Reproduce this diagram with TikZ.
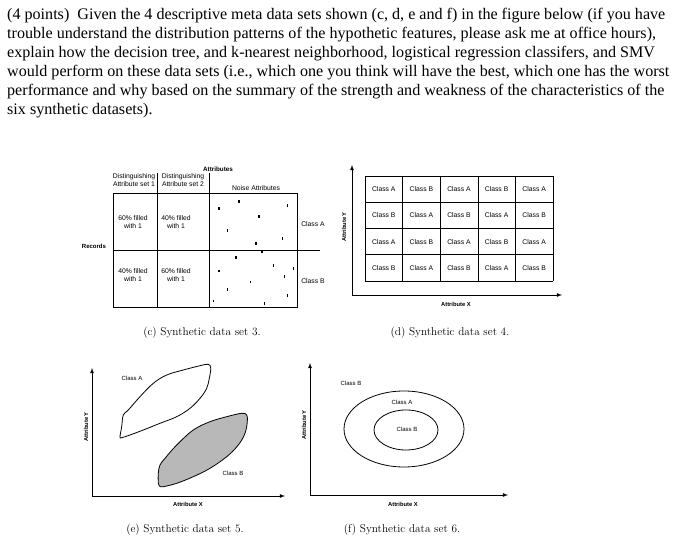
\documentclass[tikz,border=0pt]{standalone}
\usepackage{fontspec}
\newfontfamily\parafont{Liberation Serif}
\setsansfont{Liberation Sans}
\begin{document}
\begin{tikzpicture}[x=1pt,y=-1pt,
  para/.style={anchor=base west,inner sep=0pt,font=\parafont\fontsize{16.1}{18}\selectfont},
  lbl/.style={inner sep=0pt,font=\sffamily\fontsize{6.8}{7.6}\selectfont,align=center},
  small/.style={inner sep=0pt,font=\sffamily\fontsize{6}{7}\selectfont,align=center},
  axlbl/.style={inner sep=0pt,font=\sffamily\bfseries\fontsize{5.8}{7}\selectfont},
  capt/.style={inner sep=0pt,font=\fontsize{11.3}{13}\selectfont},
  ln/.style={line width=0.6pt},
  axis/.style={line width=0.8pt,-latex},
  dot/.style={line width=1.1pt},
  blob/.style={line width=0.8pt}
]
\useasboundingbox (0,0) rectangle (678,553);
% paragraph
\node[para] (l1) at (7,20) {(4 points)\ \ Given the 4 descriptive meta data sets shown (c, d, e and f) in the figure below (if you have};
\node[para] (l2) at (7,39) {trouble understand the distribution patterns of the hypothetic features, please ask me at office hours),};
\node[para] (l3) at (7,58) {explain how the decision tree, and k-nearest neighborhood, logistical regression classifers, and SMV};
\node[para] (l4) at (7,77) {would perform on these data sets (i.e., which one you think will have the best, which one has the worst};
\node[para] (l5) at (7,96) {performance and why based on the summary of the strength and weakness of the characteristics of the};
\node[para] (l6) at (7,115) {six synthetic datasets).};

% ---------- (c)
\draw[ln] (113,193) rectangle (297,307);
\draw[ln] (157,173) -- (157,307);
\draw[ln] (209,173) -- (209,307);
\draw[ln] (113,250) -- (320,250);
\node[axlbl,font=\sffamily\bfseries\fontsize{6.3}{7}\selectfont] (attr) at (218,169) {Attributes};
\node[lbl] (d1) at (134,180) {Distinguishing\\Attribute set 1};
\node[lbl] (d2) at (183,180) {Distinguishing\\Attribute set 2};
\node[lbl] (noise) at (256,188) {Noise Attributes};
\node[lbl] (c11) at (133,222) {60\% filled\\with 1};
\node[lbl] (c12) at (176,222) {40\% filled\\with 1};
\node[lbl] (c21) at (133,275) {40\% filled\\with 1};
\node[lbl] (c22) at (176,275) {60\% filled\\with 1};
\node[lbl] (ca) at (313,224) {Class A};
\node[lbl] (cb) at (313,281) {Class B};
\node[axlbl,font=\sffamily\bfseries\fontsize{6}{7}\selectfont] (rec) at (94,246) {Records};
\foreach \px/\py in {447/145,507/125,653/137,567/170,472/212,637/235,558/250,576/276,498/292,610/316,670/325,447/333,644/349,541/366,472/389,653/406,430/423,584/430}
  \draw[dot] ({\px/3+70},{\py/3+160-1.3}) -- ({\px/3+70},{\py/3+160+1.3});
\node[capt] (capc) at (202,333) {(c) Synthetic data set 3.};

% ---------- (d)
\coordinate (dO) at (352,295);
\coordinate (dY) at (352,165);
\coordinate (dX) at (562,295);
\draw[axis] (dO) -- (dY);
\draw[axis] (dO) -- (dX);
\foreach \c in {0,...,5} \draw[ln] ({365+37.6*\c},176) -- ({365+37.6*\c},281);
\foreach \r in {0,...,4} \draw[ln] (365,{176+26.25*\r}) -- (553,{176+26.25*\r});
\foreach \r in {0,1,2,3}
  \foreach \c in {0,1,2,3,4}{
    \pgfmathtruncatemacro{\parity}{mod(\r+\c,2)}
    \ifnum\parity=0 \def\cls{Class A}\else\def\cls{Class B}\fi
    \node[lbl] (g\r\c) at ({365+37.6*\c+18.8},{176+26.25*\r+13.1}) {\cls};
  }
\node[axlbl] (dxl) at (456,304) {Attribute X};
\node[axlbl,rotate=90] (dyl) at (344,227) {Attribute Y};
\node[capt] (capd) at (450,333) {(d) Synthetic data set 4.};

% ---------- (e)
\coordinate (eO) at (92,496);
\coordinate (eY) at (92,368);
\coordinate (eX) at (285,496);
\draw[axis] (eO) -- (eY);
\draw[axis] (eO) -- (eX);
\draw[blob] plot[smooth cycle,tension=0.6] coordinates {
 (120,436.7) (121.7,426.7) (123.3,415) (128.3,410) (140,396.7) (153.3,383.3) (166.7,375)
 (183.3,370) (200,365.7) (208.3,364.3) (210.7,368.3) (209.3,378.3) (206.7,388.3) (200,398.3)
 (190,408.3) (176.7,416.7) (160,423.3) (143.3,430) (130,435) (121.7,437.7)};
\draw[blob,fill=black!28] plot[smooth cycle,tension=0.6] coordinates {
 (158.3,483.3) (158.3,473.3) (160,465) (165,458.3) (176.7,445) (193.3,430) (210,421.7)
 (226.7,416.7) (241.7,413.3) (246.7,415) (247.3,421.7) (245,433.3) (238.3,445) (226.7,456.7)
 (210,468.3) (193.3,476.7) (176.7,483.3) (163.3,486.7) (159.3,486)};
\node[small] (ea) at (132,378) {Class A};
\node[small] (eb) at (233,473) {Class B};
\node[axlbl] (exl) at (188,504) {Attribute X};
\node[axlbl,rotate=90] (eyl) at (86,427) {Attribute Y};
\node[capt] (cape) at (185,530) {(e) Synthetic data set 5.};

% ---------- (f)
\coordinate (fO) at (310,495);
\coordinate (fY) at (310,363);
\coordinate (fX) at (508,495);
\draw[axis] (fO) -- (fY);
\draw[axis] (fO) -- (fX);
\draw[blob] (404,429) ellipse [x radius=60,y radius=38];
\draw[blob] (406,430) ellipse [x radius=32,y radius=20];
\node[small] (fb1) at (351,383) {Class B};
\node[small] (fa) at (402,402) {Class A};
\node[small] (fb2) at (407,429) {Class B};
\node[axlbl] (fxl) at (403,504) {Attribute X};
\node[axlbl,rotate=90] (fyl) at (304,425) {Attribute Y};
\node[capt] (capf) at (402,530) {(f) Synthetic data set 6.};
\end{tikzpicture}
\end{document}
